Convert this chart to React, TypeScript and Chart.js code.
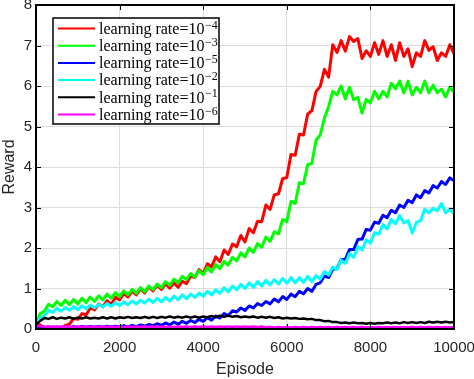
import React, { useEffect, useRef } from "react";
import { Chart, registerables } from "chart.js";

Chart.register(...registerables);

// Episode sampling (every 100 episodes, 0..10000)
const episodes: number[] = Array.from({ length: 101 }, (_, i) => i * 100);

const xTickValues = [0, 2000, 4000, 6000, 8000, 10000];
const yTickValues = [0, 1, 2, 3, 4, 5, 6, 7, 8];

const legendBase = "learning rate=10";
const exponents = ["\u22124", "\u22123", "\u22125", "\u22122", "\u22121", "\u22126"];
const colors = ["#ff0000", "#00ff00", "#0000ff", "#00ffff", "#000000", "#ff00ff"];
const lineWidths = [3, 3, 3, 3, 2.5, 2.5];

// lr = 1e-4 (red)
const rewardLr4 = [
  0.10, 0.10, 0.03, 0.05, 0.00, 0.04, 0.01, 0.09, 0.12, 0.26,
  0.24, 0.38, 0.35, 0.52, 0.47, 0.62, 0.55, 0.70, 0.61, 0.78,
  0.72, 0.88, 0.79, 0.93, 0.84, 0.99, 0.89, 1.04, 0.94, 1.08,
  0.98, 1.11, 1.01, 1.14, 1.03, 1.18, 1.12, 1.31, 1.27, 1.47,
  1.37, 1.61, 1.53, 1.78, 1.66, 1.95, 1.84, 2.10, 2.03, 2.31,
  2.15, 2.48, 2.38, 2.66, 2.65, 3.06, 2.95, 3.31, 3.34, 3.71,
  3.74, 4.31, 4.29, 4.81, 4.79, 5.31, 5.39, 5.86, 5.99, 6.41,
  6.22, 7.02, 6.83, 7.12, 6.86, 7.22, 7.10, 7.17, 6.68, 6.87,
  6.73, 7.07, 6.78, 7.12, 6.73, 7.02, 6.63, 7.07, 6.73, 6.92,
  6.48, 6.82, 6.73, 7.12, 6.88, 6.97, 6.63, 6.82, 6.73, 7.02,
  6.80,
];

// lr = 1e-3 (green)
const rewardLr3 = [
  0.10, 0.38, 0.44, 0.61, 0.55, 0.68, 0.58, 0.71, 0.60, 0.73,
  0.62, 0.76, 0.65, 0.79, 0.68, 0.82, 0.72, 0.86, 0.76, 0.90,
  0.80, 0.94, 0.84, 0.98, 0.88, 1.02, 0.92, 1.06, 0.97, 1.11,
  1.02, 1.17, 1.08, 1.23, 1.14, 1.30, 1.22, 1.37, 1.28, 1.44,
  1.34, 1.52, 1.41, 1.59, 1.49, 1.67, 1.58, 1.77, 1.68, 1.88,
  1.78, 2.00, 1.89, 2.11, 2.02, 2.27, 2.16, 2.40, 2.35, 2.70,
  2.65, 3.15, 3.10, 3.61, 3.59, 4.06, 4.09, 4.66, 4.79, 5.21,
  5.49, 5.87, 5.78, 6.00, 5.68, 5.97, 5.66, 5.72, 5.33, 5.67,
  5.58, 5.87, 5.68, 5.87, 5.73, 6.07, 5.93, 6.12, 5.83, 6.12,
  5.78, 5.97, 5.83, 6.12, 5.83, 6.02, 5.83, 5.92, 5.73, 5.97,
  5.85,
];

// lr = 1e-5 (blue)
const rewardLr5 = [
  0.05, 0.06, 0.03, 0.05, 0.03, 0.05, 0.03, 0.05, 0.03, 0.06,
  0.04, 0.06, 0.04, 0.06, 0.04, 0.06, 0.04, 0.07, 0.05, 0.07,
  0.05, 0.08, 0.05, 0.09, 0.06, 0.10, 0.07, 0.11, 0.08, 0.13,
  0.09, 0.15, 0.10, 0.17, 0.12, 0.19, 0.14, 0.21, 0.16, 0.24,
  0.19, 0.28, 0.22, 0.32, 0.27, 0.38, 0.33, 0.45, 0.42, 0.52,
  0.46, 0.57, 0.52, 0.63, 0.58, 0.68, 0.62, 0.74, 0.67, 0.80,
  0.73, 0.86, 0.80, 0.93, 0.87, 1.00, 0.93, 1.10, 1.14, 1.31,
  1.27, 1.48, 1.49, 1.71, 1.72, 1.96, 1.96, 2.21, 2.22, 2.46,
  2.44, 2.64, 2.61, 2.81, 2.75, 2.93, 2.87, 3.06, 3.00, 3.18,
  3.12, 3.31, 3.24, 3.42, 3.36, 3.54, 3.48, 3.64, 3.57, 3.73,
  3.66,
];

// lr = 1e-2 (cyan)
const rewardLr2 = [
  0.10, 0.27, 0.32, 0.46, 0.41, 0.51, 0.44, 0.53, 0.46, 0.55,
  0.48, 0.57, 0.50, 0.59, 0.52, 0.61, 0.54, 0.63, 0.56, 0.65,
  0.58, 0.67, 0.60, 0.69, 0.62, 0.71, 0.64, 0.74, 0.65, 0.76,
  0.67, 0.78, 0.69, 0.81, 0.72, 0.84, 0.75, 0.86, 0.78, 0.89,
  0.81, 0.93, 0.84, 0.97, 0.88, 1.02, 0.92, 1.06, 0.97, 1.10,
  1.00, 1.14, 1.03, 1.17, 1.06, 1.20, 1.09, 1.22, 1.11, 1.25,
  1.13, 1.27, 1.14, 1.27, 1.15, 1.30, 1.17, 1.32, 1.23, 1.42,
  1.33, 1.53, 1.47, 1.70, 1.62, 1.86, 1.77, 2.03, 1.95, 2.20,
  2.12, 2.38, 2.34, 2.58, 2.47, 2.70, 2.60, 2.80, 2.62, 2.68,
  2.37, 2.63, 2.67, 2.96, 2.87, 2.98, 2.92, 3.10, 2.87, 2.96,
  2.85,
];

// lr = 1e-1 (black)
const rewardLr1 = [
  0.10, 0.20, 0.27, 0.25, 0.29, 0.25, 0.28, 0.26, 0.29, 0.25,
  0.28, 0.26, 0.29, 0.26, 0.28, 0.26, 0.29, 0.26, 0.29, 0.26,
  0.29, 0.27, 0.30, 0.27, 0.29, 0.27, 0.30, 0.27, 0.30, 0.27,
  0.30, 0.28, 0.31, 0.28, 0.30, 0.28, 0.31, 0.28, 0.31, 0.28,
  0.31, 0.29, 0.32, 0.29, 0.33, 0.30, 0.33, 0.30, 0.32, 0.29,
  0.31, 0.29, 0.31, 0.28, 0.30, 0.28, 0.30, 0.27, 0.29, 0.26,
  0.28, 0.26, 0.27, 0.25, 0.26, 0.24, 0.25, 0.22, 0.22, 0.19,
  0.20, 0.17, 0.17, 0.15, 0.16, 0.14, 0.16, 0.14, 0.15, 0.13,
  0.15, 0.13, 0.15, 0.14, 0.16, 0.14, 0.16, 0.14, 0.17, 0.15,
  0.17, 0.15, 0.17, 0.15, 0.18, 0.16, 0.18, 0.16, 0.18, 0.16,
  0.17,
];

// lr = 1e-6 (magenta)
const rewardLr6 = [
  0.08, 0.07, 0.06, 0.05, 0.06, 0.05, 0.06, 0.05, 0.06, 0.05,
  0.06, 0.05, 0.06, 0.05, 0.06, 0.05, 0.06, 0.05, 0.06, 0.05,
  0.06, 0.05, 0.06, 0.05, 0.06, 0.05, 0.06, 0.05, 0.06, 0.05,
  0.06, 0.05, 0.06, 0.05, 0.06, 0.05, 0.06, 0.05, 0.06, 0.05,
  0.06, 0.05, 0.06, 0.05, 0.06, 0.05, 0.06, 0.05, 0.06, 0.05,
  0.06, 0.05, 0.06, 0.05, 0.06, 0.04, 0.05, 0.04, 0.05, 0.04,
  0.05, 0.04, 0.05, 0.04, 0.05, 0.04, 0.05, 0.04, 0.05, 0.04,
  0.05, 0.04, 0.05, 0.04, 0.05, 0.04, 0.05, 0.04, 0.05, 0.04,
  0.05, 0.04, 0.05, 0.04, 0.05, 0.04, 0.05, 0.04, 0.05, 0.04,
  0.05, 0.04, 0.05, 0.04, 0.05, 0.04, 0.05, 0.04, 0.05, 0.04,
  0.05,
];

const seriesValues = [rewardLr4, rewardLr3, rewardLr5, rewardLr2, rewardLr1, rewardLr6];

const matlabPlugin = {
  id: "matlabFrame",
  afterDatasetsDraw(chart: any) {
    const { ctx, chartArea: a, scales } = chart;
    ctx.save();
    // inner tick marks
    ctx.strokeStyle = "#000";
    ctx.lineWidth = 1;
    const tl = 5;
    ctx.beginPath();
    for (const v of xTickValues) {
      const x = Math.round(scales.x.getPixelForValue(v)) + 0.5;
      ctx.moveTo(x, a.bottom);
      ctx.lineTo(x, a.bottom - tl);
      ctx.moveTo(x, a.top);
      ctx.lineTo(x, a.top + tl);
    }
    for (const v of yTickValues) {
      const y = Math.round(scales.y.getPixelForValue(v)) + 0.5;
      ctx.moveTo(a.left, y);
      ctx.lineTo(a.left + tl, y);
      ctx.moveTo(a.right, y);
      ctx.lineTo(a.right - tl, y);
    }
    ctx.stroke();
    // frame
    ctx.lineWidth = 2;
    ctx.strokeRect(a.left, a.top, a.right - a.left, a.bottom - a.top);

    // legend
    const lx = a.left + 17;
    const ly = a.top + 13;
    const lw = 166;
    const lh = 106;
    ctx.fillStyle = "#fff";
    ctx.fillRect(lx, ly, lw, lh);
    ctx.lineWidth = 1.5;
    ctx.strokeStyle = "#000";
    ctx.strokeRect(lx, ly, lw, lh);
    const ds = chart.data.datasets;
    for (let i = 0; i < ds.length; i++) {
      const cy = ly + 10.5 + i * 17.2;
      ctx.strokeStyle = ds[i].borderColor;
      ctx.lineWidth = 2;
      ctx.beginPath();
      ctx.moveTo(lx + 5, cy);
      ctx.lineTo(lx + 42, cy);
      ctx.stroke();
      ctx.fillStyle = "#000";
      ctx.textBaseline = "middle";
      ctx.textAlign = "left";
      ctx.font = "16px 'Liberation Serif', serif";
      const base = legendBase;
      ctx.fillText(base, lx + 46, cy + 1);
      const w = ctx.measureText(base).width;
      ctx.font = "12px 'Liberation Serif', serif";
      ctx.fillText(exponents[i], lx + 46 + w + 0.5, cy - 3);
    }
    ctx.restore();
  },
};

export default function App() {
  const ref = useRef<HTMLCanvasElement>(null);
  useEffect(() => {
    const canvas = ref.current;
    if (!canvas) return;
    const tickFont = { family: "'Liberation Sans', Arial, sans-serif", size: 15 };
    const chart = new Chart(canvas, {
      type: "line",
      data: {
        datasets: seriesValues.map((vals, i) => ({
          label: legendBase + exponents[i],
          data: vals.map((v, j) => ({ x: episodes[j], y: v })),
          borderColor: colors[i],
          backgroundColor: colors[i],
          borderWidth: lineWidths[i],
          borderJoinStyle: "round" as const,
          borderCapStyle: "round" as const,
          pointRadius: 0,
          tension: 0,
          fill: false,
          order: seriesValues.length - i,
        })),
      },
      options: {
        animation: false,
        responsive: false,
        devicePixelRatio: 1,
        layout: { padding: { top: 5, right: 20, left: 0, bottom: 0 } },
        plugins: {
          legend: { display: false },
          tooltip: { enabled: false },
        },
        scales: {
          x: {
            type: "linear",
            min: 0,
            max: 10000,
            afterBuildTicks: (s: any) => {
              s.ticks = xTickValues.map((v) => ({ value: v }));
            },
            ticks: {
              font: tickFont,
              color: "#262626",
              padding: 10,
              maxRotation: 0,
              autoSkip: false,
              callback: (v: any) => String(v),
            },
            grid: { color: "#dcdcdc", lineWidth: 1, drawTicks: false },
            border: { display: false },
            title: {
              display: true,
              text: "Episode",
              font: { family: "'Liberation Sans', Arial, sans-serif", size: 16 },
              color: "#262626",
              padding: { top: 0, bottom: 0 },
            },
            afterFit: (s: any) => {
              s.height = 50;
              s.paddingLeft = 0;
              s.paddingRight = 0;
            },
          },
          y: {
            type: "linear",
            min: 0,
            max: 8,
            afterBuildTicks: (s: any) => {
              s.ticks = yTickValues.map((v) => ({ value: v }));
            },
            ticks: {
              font: tickFont,
              color: "#262626",
              padding: 4,
              autoSkip: false,
              callback: (v: any) => String(v),
            },
            grid: { color: "#dcdcdc", lineWidth: 1, drawTicks: false },
            border: { display: false },
            title: {
              display: true,
              text: "Reward",
              font: { family: "'Liberation Sans', Arial, sans-serif", size: 16 },
              color: "#262626",
              padding: { top: 0, bottom: 0 },
            },
            afterFit: (s: any) => {
              s.width = 36;
              s.paddingTop = 0;
              s.paddingBottom = 0;
            },
          },
        },
      },
      plugins: [matlabPlugin],
    });
    return () => chart.destroy();
  }, []);
  return (
    <div style={{ position: "absolute", left: 0, top: 0, width: 474, height: 379, background: "#fff" }}>
      <canvas ref={ref} width={474} height={379} style={{ display: "block", width: 474, height: 379 }} />
    </div>
  );
}
